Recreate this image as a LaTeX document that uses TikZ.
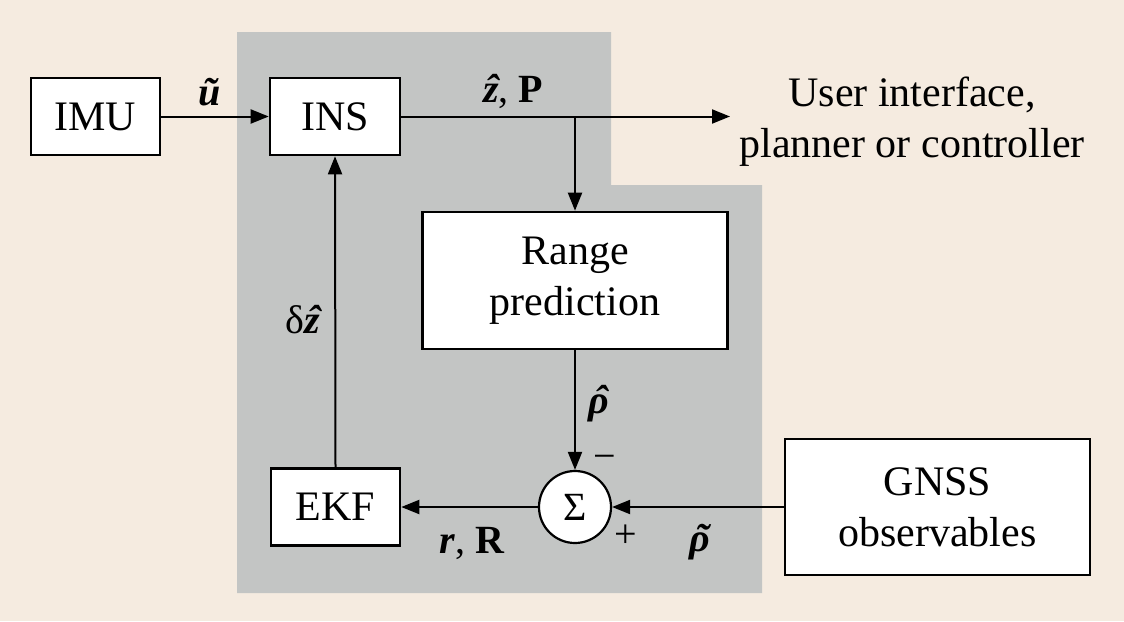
\documentclass[tikz,border=0pt]{standalone}
\usepackage{fontspec}
\setmainfont{Liberation Serif}
\usetikzlibrary{arrows.meta}
\definecolor{bgbeige}{RGB}{245,235,224}
\definecolor{panelgray}{RGB}{195,197,196}
\newcommand{\accover}[3][0pt]{{\ooalign{#3\cr\hidewidth\kern#1#2\hidewidth\cr}}}
\newcommand{\bigtxt}{\fontsize{42}{51}\selectfont}
\newcommand{\lbltxt}{\fontsize{40}{48}\selectfont}
\newcommand{\bi}{\bfseries\itshape}
\begin{document}
\begin{tikzpicture}[x=1pt,y=-1pt,
  box/.style={draw=black,line width=2.6pt,fill=white,inner sep=0pt,align=center,font=\bigtxt},
  arr/.style={line width=2pt,-{Triangle[length=18pt,width=14pt]}},
  lbl/.style={inner sep=0pt,font=\lbltxt}]
\fill[bgbeige] (0,0) rectangle (1124,621);
\useasboundingbox (0,0) rectangle (1124,621);
\fill[panelgray] (237,32) -- (611,32) -- (611,185) -- (762,185) -- (762,593) -- (237,593) -- cycle;

\node[box,minimum width=129pt,minimum height=77pt] (imu) at (95.5,116.5) {IMU};
\node[box,minimum width=130pt,minimum height=77pt] (ins) at (335,116.5) {INS};
\node[box,minimum width=305pt,minimum height=137pt] (rp) at (575,280.5) {Range\\prediction};
\node[box,minimum width=129pt,minimum height=77pt] (ekf) at (335.5,507) {EKF};
\node[box,minimum width=305pt,minimum height=136pt] (gnss) at (937.5,507) {GNSS\\observables};
\node[circle,draw=black,line width=2.2pt,fill=white,minimum size=72pt,inner sep=0pt,font=\lbltxt] (sum) at (575,507) {Σ};

\node[align=center,inner sep=0pt,font=\bigtxt] (user) at (912,122) {User interface,\\planner or controller};

\coordinate (out) at (730,116.5);
\coordinate (br) at (rp.north |- ins.east);

\draw[arr] (imu.east) -- (ins.west);
\draw[arr] (ins.east) -- (out);
\draw[arr] (br) -- (rp.north);
\draw[arr] (rp.south) -- (sum.north);
\draw[arr] (gnss.west) -- (sum.east);
\draw[arr] (sum.west) -- (ekf.east);
\draw[arr] (ekf.north) -- (ins.south);

\node[lbl,anchor=base] (lu) at (210,105) {\bi ũ};
\node[lbl,anchor=base] (lzp) at (513,102) {{\bi \accover[3pt]{ˆ}{z}}, {\bfseries P}};
\node[lbl,anchor=base] (ldz) at (303,333) {δ{\bi \accover[3pt]{ˆ}{z}}};
\node[lbl,anchor=base] (lrho) at (599,413) {{\bi \accover[4pt]{ˆ}{ρ}}};
\node[lbl] (lminus) at (605,462) {−};
\node[lbl] (lplus) at (626,536) {+};
\node[lbl,anchor=base] (lrt) at (700,551) {{\bi \accover[4pt]{˜}{ρ}}};
\node[lbl,anchor=base] (lrR) at (472,553) {{\bi r}, {\bfseries R}};
\end{tikzpicture}
\end{document}
